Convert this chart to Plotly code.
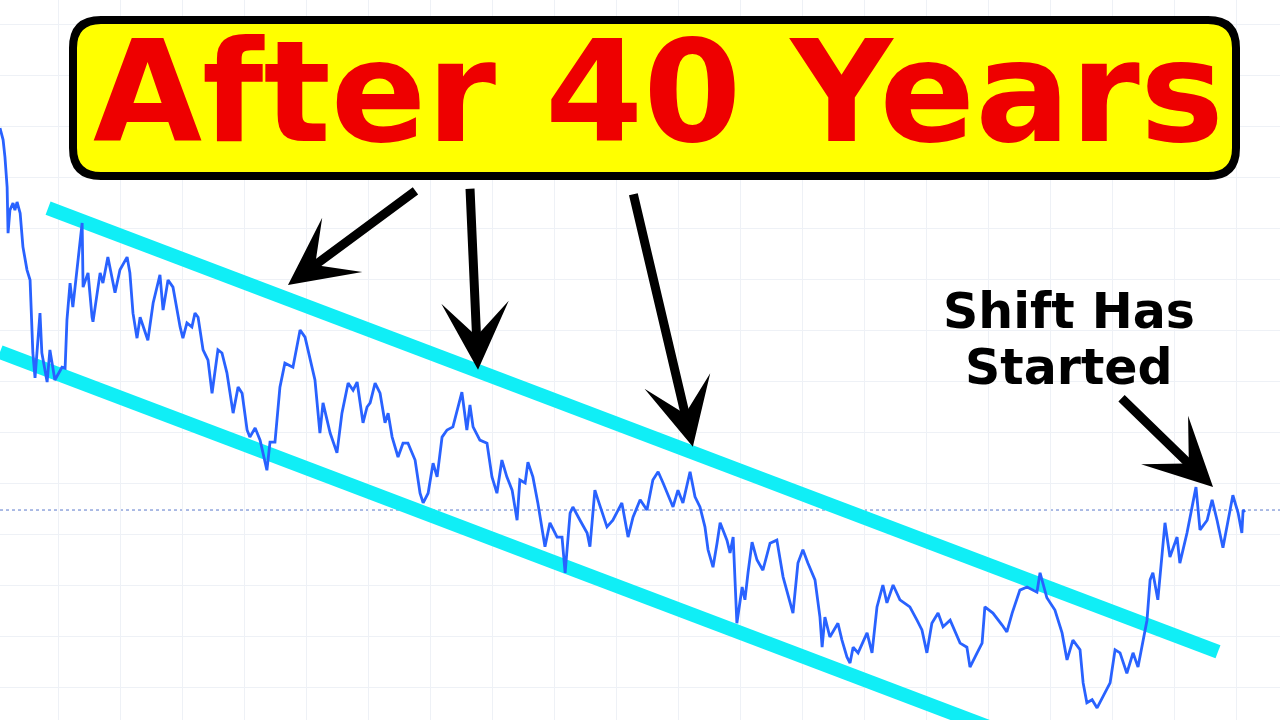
import plotly.graph_objects as go

# ---------------- data (years since start, value) ----------------
years = [0.00, 0.10, 0.16, 0.23, 0.26, 0.32, 0.42, 0.48, 0.55, 0.65, 0.74, 0.87, 0.97, 1.06, 1.13,
         1.29, 1.35, 1.52, 1.61, 1.77, 2.00, 2.10, 2.16, 2.26, 2.35, 2.52, 2.65, 2.68, 2.84, 2.97,
         3.00, 3.23, 3.32, 3.48, 3.71, 3.87, 4.10, 4.19, 4.29, 4.42, 4.52, 4.77, 4.94, 5.16, 5.26,
         5.42, 5.58, 5.81, 5.90, 6.03, 6.19, 6.29, 6.39, 6.55, 6.71, 6.84, 7.03, 7.16, 7.32, 7.52,
         7.68, 7.81, 7.97, 8.06, 8.23, 8.39, 8.55, 8.61, 8.71, 8.87, 9.03, 9.19, 9.45, 9.68, 9.84,
         10.16, 10.32, 10.42, 10.65, 10.87, 11.03, 11.23, 11.39, 11.52, 11.71, 11.84, 11.94, 12.10, 12.26, 12.42,
         12.52, 12.65, 12.84, 13.00, 13.16, 13.39, 13.55, 13.65, 13.81, 13.97, 14.10, 14.26, 14.42, 14.61, 14.90,
         15.06, 15.16, 15.26, 15.48, 15.71, 15.87, 16.03, 16.19, 16.35, 16.52, 16.68, 16.77, 16.94, 17.03, 17.19,
         17.35, 17.58, 17.74, 17.97, 18.13, 18.23, 18.39, 18.48, 18.71, 18.94, 19.03, 19.19, 19.29, 19.58, 19.77,
         20.06, 20.26, 20.42, 20.65, 20.87, 21.06, 21.23, 21.39, 21.71, 21.87, 22.03, 22.26, 22.42, 22.58, 22.74,
         22.84, 23.00, 23.13, 23.23, 23.45, 23.55, 23.65, 23.77, 23.94, 24.03, 24.13, 24.26, 24.42, 24.61, 24.84,
         25.06, 25.26, 25.48, 25.58, 25.74, 25.90, 26.06, 26.29, 26.45, 26.52, 26.61, 26.77, 27.03, 27.16, 27.32,
         27.42, 27.52, 27.68, 27.97, 28.13, 28.29, 28.48, 28.61, 28.81, 29.03, 29.35, 29.58, 29.74, 29.90, 30.06,
         30.26, 30.42, 30.65, 30.74, 30.97, 31.19, 31.29, 31.52, 31.68, 31.77, 32.03, 32.32, 32.48, 32.65, 32.90,
         33.13, 33.45, 33.55, 33.77, 34.03, 34.26, 34.42, 34.61, 34.84, 34.94, 35.06, 35.23, 35.39, 35.58, 35.81,
         35.97, 36.13, 36.35, 36.55, 36.71, 36.87, 37.00, 37.10, 37.19, 37.35, 37.52, 37.58, 37.74, 37.97, 38.06,
         38.29, 38.48, 38.58, 38.71, 38.94, 39.10, 39.26, 39.45, 39.61, 39.77, 39.94, 40.06, 40.10, 40.16]

values = [11.96, 11.73, 11.39, 10.80, 9.90, 10.35, 10.49, 10.35, 10.51, 10.29, 9.63, 9.18, 8.98, 7.55, 7.06,
          8.33, 7.55, 6.98, 7.61, 7.02, 7.27, 7.25, 8.20, 8.92, 8.45, 9.37, 10.10, 8.84, 9.12, 8.25,
          8.16, 9.12, 8.92, 9.43, 8.73, 9.18, 9.43, 9.12, 8.33, 7.84, 8.25, 7.80, 8.53, 9.08, 8.39,
          8.98, 8.84, 8.06, 7.84, 8.14, 8.06, 8.33, 8.25, 7.61, 7.41, 6.76, 7.61, 7.55, 7.16, 6.37,
          6.88, 6.76, 6.04, 5.90, 6.08, 5.84, 5.45, 5.25, 5.80, 5.80, 6.88, 7.35, 7.27, 8.00, 7.86,
          7.02, 5.98, 6.57, 5.98, 5.59, 6.37, 6.96, 6.82, 6.98, 6.18, 6.49, 6.57, 6.96, 6.76, 6.18,
          6.37, 5.90, 5.51, 5.78, 5.78, 5.45, 4.80, 4.61, 4.80, 5.39, 5.12, 5.90, 6.04, 6.10, 6.78,
          6.04, 6.53, 6.10, 5.84, 5.78, 5.12, 4.80, 5.45, 5.12, 4.86, 4.27, 5.06, 5.00, 5.41, 5.12,
          4.61, 3.75, 4.22, 3.94, 3.94, 3.24, 4.41, 4.53, 4.27, 4.02, 3.75, 4.86, 4.67, 4.14, 4.27,
          4.61, 3.94, 4.33, 4.67, 4.47, 5.06, 5.22, 5.00, 4.53, 4.86, 4.61, 5.22, 4.73, 4.53, 4.14,
          3.69, 3.35, 3.82, 4.22, 3.88, 3.63, 3.94, 2.25, 2.96, 2.71, 3.24, 3.84, 3.49, 3.29, 3.82,
          3.88, 3.16, 2.65, 2.45, 3.43, 3.69, 3.43, 3.10, 2.37, 1.78, 2.37, 1.98, 2.25, 1.92, 1.59,
          1.47, 1.78, 1.67, 2.06, 1.67, 2.57, 3.00, 2.65, 3.00, 2.71, 2.57, 2.31, 2.12, 1.67, 2.25,
          2.45, 2.18, 2.31, 2.18, 1.86, 1.78, 1.39, 1.67, 1.86, 2.57, 2.45, 2.22, 2.08, 2.45, 2.90,
          2.96, 2.86, 3.24, 2.75, 2.51, 2.06, 1.53, 1.92, 1.73, 1.08, 0.69, 0.75, 0.59, 0.80, 1.08,
          1.73, 1.67, 1.27, 1.67, 1.39, 1.92, 2.31, 3.10, 3.24, 2.71, 3.88, 4.22, 3.55, 3.94, 3.43,
          4.02, 4.61, 4.92, 4.08, 4.27, 4.67, 4.27, 3.73, 4.27, 4.76, 4.41, 4.02, 4.47, 4.43]

last_value = 4.47

# channel lines (start/end points)
upper_x = [1.55, 39.29]
upper_y = [10.39, 1.69]
lower_x = [0.00, 33.00]
lower_y = [7.57, -0.04]

# arrows: (tail_x, tail_y, tip_x, tip_y)
arrows = [
    (13.45, 10.75, 9.29, 8.88),
    (15.16, 10.80, 15.42, 7.22),
    (20.42, 10.69, 22.35, 5.71),
    (36.13, 6.69, 39.13, 4.92),
]

title_text = "After 40 Years"
note_lines = ["Shift Has", "Started"]

# ---------------- figure ----------------
W, H = 1280, 720
fig = go.Figure()

cyan = "#10EEF6"
fig.add_trace(go.Scatter(x=upper_x, y=upper_y, mode="lines",
                         line=dict(color=cyan, width=14), hoverinfo="skip"))
fig.add_trace(go.Scatter(x=lower_x, y=lower_y, mode="lines",
                         line=dict(color=cyan, width=14), hoverinfo="skip"))
fig.add_trace(go.Scatter(x=years, y=values, mode="lines",
                         line=dict(color="#2962FF", width=2.8), hoverinfo="skip"))

# last value dotted line
fig.add_shape(type="line", xref="paper", x0=0, x1=1, yref="y", y0=last_value, y1=last_value,
              line=dict(color="#5A78CC", width=1, dash="dot"), layer="below")

# rounded title box (paper coords)
x0, x1 = 73 / W, 1236 / W
yt, yb = 1 - 20 / H, 1 - 176 / H
rx, ry = 28 / W, 28 / H
path = (f"M{x0+rx},{yt} L{x1-rx},{yt} Q{x1},{yt} {x1},{yt-ry} "
        f"L{x1},{yb+ry} Q{x1},{yb} {x1-rx},{yb} "
        f"L{x0+rx},{yb} Q{x0},{yb} {x0},{yb+ry} "
        f"L{x0},{yt-ry} Q{x0},{yt} {x0+rx},{yt} Z")
fig.add_shape(type="path", xref="paper", yref="paper", path=path,
              fillcolor="#FFFF00", line=dict(color="#000000", width=8), layer="above")

fig.add_annotation(xref="paper", yref="paper", x=658.5 / W, y=1 - 91.5 / H,
                   xanchor="center", yanchor="middle", showarrow=False,
                   text=f"<b>{title_text}</b>",
                   font=dict(family="DejaVu Sans", size=141, color="#EE0000"))

fig.add_annotation(xref="paper", yref="paper", x=1069 / W, y=1 - 311.5 / H,
                   xanchor="center", yanchor="middle", showarrow=False,
                   text=f"<b>{note_lines[0]}</b>",
                   font=dict(family="DejaVu Sans", size=49, color="#000000"))
fig.add_annotation(xref="paper", yref="paper", x=1069 / W, y=1 - 367.5 / H,
                   xanchor="center", yanchor="middle", showarrow=False,
                   text=f"<b>{note_lines[1]}</b>",
                   font=dict(family="DejaVu Sans", size=49, color="#000000"))

for tx, ty, hx, hy in arrows:
    fig.add_annotation(x=hx, y=hy, ax=tx, ay=ty, xref="x", yref="y", axref="x", ayref="y",
                       text="", showarrow=True, arrowhead=3, arrowsize=1.25, arrowwidth=9,
                       arrowcolor="#000000", standoff=0)

grid = "#EEF1F6"
fig.update_xaxes(range=[0, W / 31], showgrid=True, gridcolor=grid, gridwidth=1,
                 tick0=1.9, dtick=2, showticklabels=False, zeroline=False,
                 showline=False, ticks="")
fig.update_yaxes(range=[18 / 51, 738 / 51], showgrid=True, gridcolor=grid, gridwidth=1,
                 tick0=0, dtick=1, showticklabels=False, zeroline=False,
                 showline=False, ticks="")

fig.update_layout(width=W, height=H, margin=dict(l=0, r=0, t=0, b=0),
                  paper_bgcolor="#FFFFFF", plot_bgcolor="#FFFFFF",
                  showlegend=False, hovermode=False)

fig.write_html("out.html", config={"displayModeBar": False},
               post_script="document.body.style.margin='0';document.body.style.overflow='hidden';")
